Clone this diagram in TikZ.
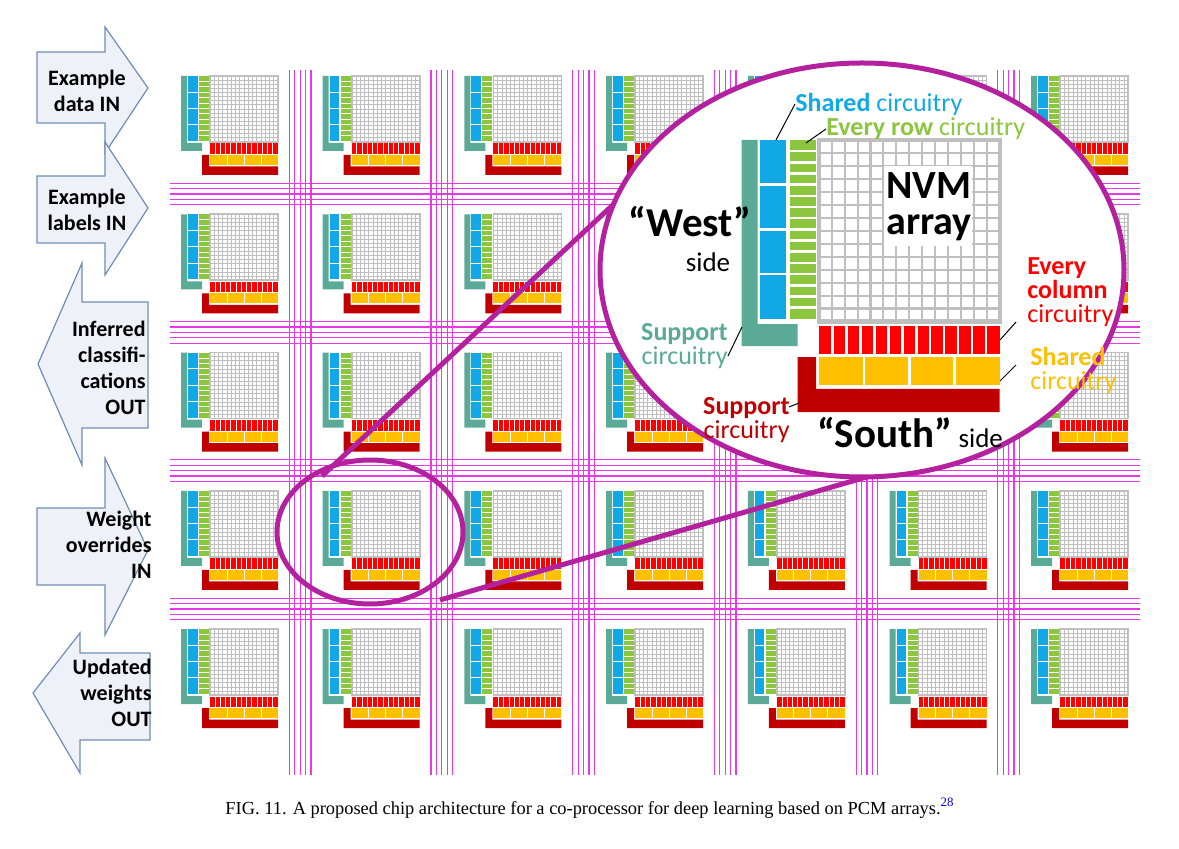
\documentclass[tikz,border=0pt]{standalone}
\usepackage{fontspec}
\setmainfont{Carlito}
\newfontfamily\capfont{Liberation Serif}
\definecolor{cteal}{HTML}{5BAA98}
\definecolor{cblue}{HTML}{12A8E6}
\definecolor{cgreen}{HTML}{8CC63F}
\definecolor{cgray}{HTML}{BFBFBF}
\definecolor{cred}{HTML}{FF0000}
\definecolor{cyel}{HTML}{FFC000}
\definecolor{cdred}{HTML}{C00000}
\definecolor{bus}{HTML}{E838E8}
\definecolor{mag}{HTML}{B4219E}
\definecolor{arrfill}{HTML}{EEF2F8}
\definecolor{arrline}{HTML}{6E8DB5}
\newcommand\tileshape[3]{%
 \fill[cteal] (0,0)--(6,0)--(6,67)--(21,67)--(21,75)--(0,75)--cycle;
 \fill[cblue] (7,0) rectangle (16.5,65);
 \foreach \i in {1,2,3} \draw[white,line width=#2] (7,\i*16.25)--(16.5,\i*16.25);
 \fill[cgreen] (18,0) rectangle (28,65);
 \foreach \i in {1,...,#3} \draw[white,line width=#2] (18,{\i*65/(#3+1)})--(28,{\i*65/(#3+1)});
 \fill[white] (29,0) rectangle (97,66);
 \foreach \i in {1,...,#1} {
   \draw[cgray,line width=#2*0.8] ({29+\i*68/(#1+1)},0)--({29+\i*68/(#1+1)},66);
   \draw[cgray,line width=#2*0.8] (29,{\i*66/(#1+1)})--(97,{\i*66/(#1+1)});}
 \draw[cgray,line width=#2*1.6] (29,0) rectangle (97,66);
 \fill[cred] (29,67.5) rectangle (97,78);
 \foreach \i in {1,...,12} \draw[white,line width=#2] ({29+\i*68/13},67.5)--({29+\i*68/13},78);
 \fill[cyel] (29,79) rectangle (97,89);
 \foreach \i in {1,2,3} \draw[white,line width=#2] (29+\i*17,79)--(29+\i*17,89);
 \fill[cdred] (21,79)--(28,79)--(28,90.5)--(97,90.5)--(97,99)--(21,99)--cycle;
}
\tikzset{
 arr/.style={fill=arrfill,draw=arrline,line width=0.6pt},
 atxt/.style={font=\fontsize{11}{13}\selectfont\bfseries,inner sep=0pt},
 lab/.style={font=\fontsize{13}{12}\selectfont,inner sep=0pt},
 lead/.style={black,line width=0.5pt},
}
\begin{document}
\begin{tikzpicture}[x=0.5pt,y=-0.5pt]
\useasboundingbox (0,0) rectangle (1179,849);
% buses
\foreach \k in {0,...,5} \foreach \l in {0,...,4}
  \draw[bus,line width=0.6pt] (289.3+\k*141.7+\l*5.4,70)--(289.3+\k*141.7+\l*5.4,775);
\foreach \j in {0,...,3} \foreach \l in {0,...,4}
  \draw[bus,line width=0.6pt] (170,183.3+\j*138.3+\l*5.4)--(1140,183.3+\j*138.3+\l*5.4);
% tiles
\foreach \c in {0,...,6} \foreach \r in {0,...,4} {
  \begin{scope}[shift={(181+\c*141.7,76+\r*138.3)}]
  \tileshape{15}{0.5pt}{11}
  \end{scope}}
% arrows
\draw[arr] (37,52)--(105,52)--(105,27)--(148,88)--(105,153)--(105,123)--(37,123)--cycle;
\node[atxt,align=center] (a1) at (87,91) {Example\\data IN};
\draw[arr] (37,176)--(105,176)--(105,142)--(148,208)--(105,275)--(105,243)--(37,243)--cycle;
\node[atxt,align=center] (a2) at (87,210) {Example\\labels IN};
\draw[arr] (148,302)--(82,302)--(82,263)--(38,364)--(82,465)--(82,428)--(148,428)--cycle;
\node[atxt,align=right,anchor=east] (a3) at (146,368) {Inferred\\classifi-\\cations\\OUT};
\draw[arr] (37,508)--(105,508)--(105,458)--(148,550)--(105,635)--(105,585)--(37,585)--cycle;
\node[atxt,align=right,anchor=east] (a4) at (152,545) {Weight\\overrides\\IN};
\draw[arr] (150,653)--(80,653)--(80,633)--(33,693)--(80,773)--(80,740)--(150,740)--cycle;
\node[atxt,align=right,anchor=east] (a5) at (152,693) {Updated\\weights\\OUT};
% magnifier
\coordinate (u1) at (322,476); \coordinate (u2) at (645,175);
\coordinate (d1) at (440,600); \coordinate (d2) at (870,476);
\draw[mag,line width=2.5pt] (u1)--(u2) (d1)--(d2);
\draw[mag,line width=2.5pt,fill=white] (862,270) ellipse [x radius=262,y radius=207];
\draw[mag,line width=2.5pt] (370,532) ellipse [x radius=93,y radius=72];
% big tile
\begin{scope}[shift={(741.7,140)},xscale=2.66,yscale=2.75]
\tileshape{13}{1.3pt}{15}
\end{scope}
\fill[white] (884,166) rectangle (972,246);
\node[font=\fontsize{20}{18}\selectfont\bfseries,align=center,inner sep=0pt] (nvm) at (929,207) {NVM\\array};
% labels
\node[lab,anchor=west,text=cblue] (sh1) at (795,104) {\textbf{Shared} circuitry};
\coordinate (sh1p) at (776,140);
\draw[lead] (sh1p)--(sh1.west);
\node[lab,anchor=west,text=cgreen] (er) at (826,129) {\textbf{Every row} circuitry};
\coordinate (erp) at (806,143);
\draw[lead] (erp)--(er.west);
\node[font=\fontsize{20.5}{20}\selectfont\bfseries,inner sep=0pt] (west) at (690,222) {“West”};
\node[font=\fontsize{13.5}{14}\selectfont,inner sep=0pt] (wside) at (708,262) {side};
\node[lab,anchor=east,align=right,text=cteal] (sup1) at (728,346) {\textbf{Support}\\circuitry};
\coordinate (sup1p) at (742,327);
\draw[lead] (sup1p)--([yshift=-5]sup1.east);
\node[lab,anchor=west,align=left,text=cred] (ec) at (1027,292) {\textbf{Every}\\\textbf{column}\\circuitry};
\coordinate (ecp) at (1000,340);
\draw[lead] (ecp)--(1016,322);
\node[lab,anchor=west,align=left,text=cyel] (sh2) at (1030,370) {\textbf{Shared}\\circuitry};
\coordinate (sh2p) at (1000,381);
\draw[lead] (sh2p)--(1016,365);
\node[lab,anchor=east,align=right,text=cdred] (sup2) at (790,420) {\textbf{Support}\\circuitry};
\coordinate (sup2p) at (799,403);
\draw[lead] (sup2p)--(789,407);
\node[inner sep=0pt,anchor=base] (south) at (910,448) {\fontsize{20.5}{20}\selectfont\bfseries “South”\fontsize{13.5}{14}\selectfont\mdseries\ side};
% caption
\node[font=\capfont\fontsize{9.2}{10}\selectfont,inner sep=0pt] (cap) at (590,808) {FIG. 11. A proposed chip architecture for a co-processor for deep learning based on PCM arrays.\textsuperscript{\textcolor{blue}{28}}};
\end{tikzpicture}
\end{document}
